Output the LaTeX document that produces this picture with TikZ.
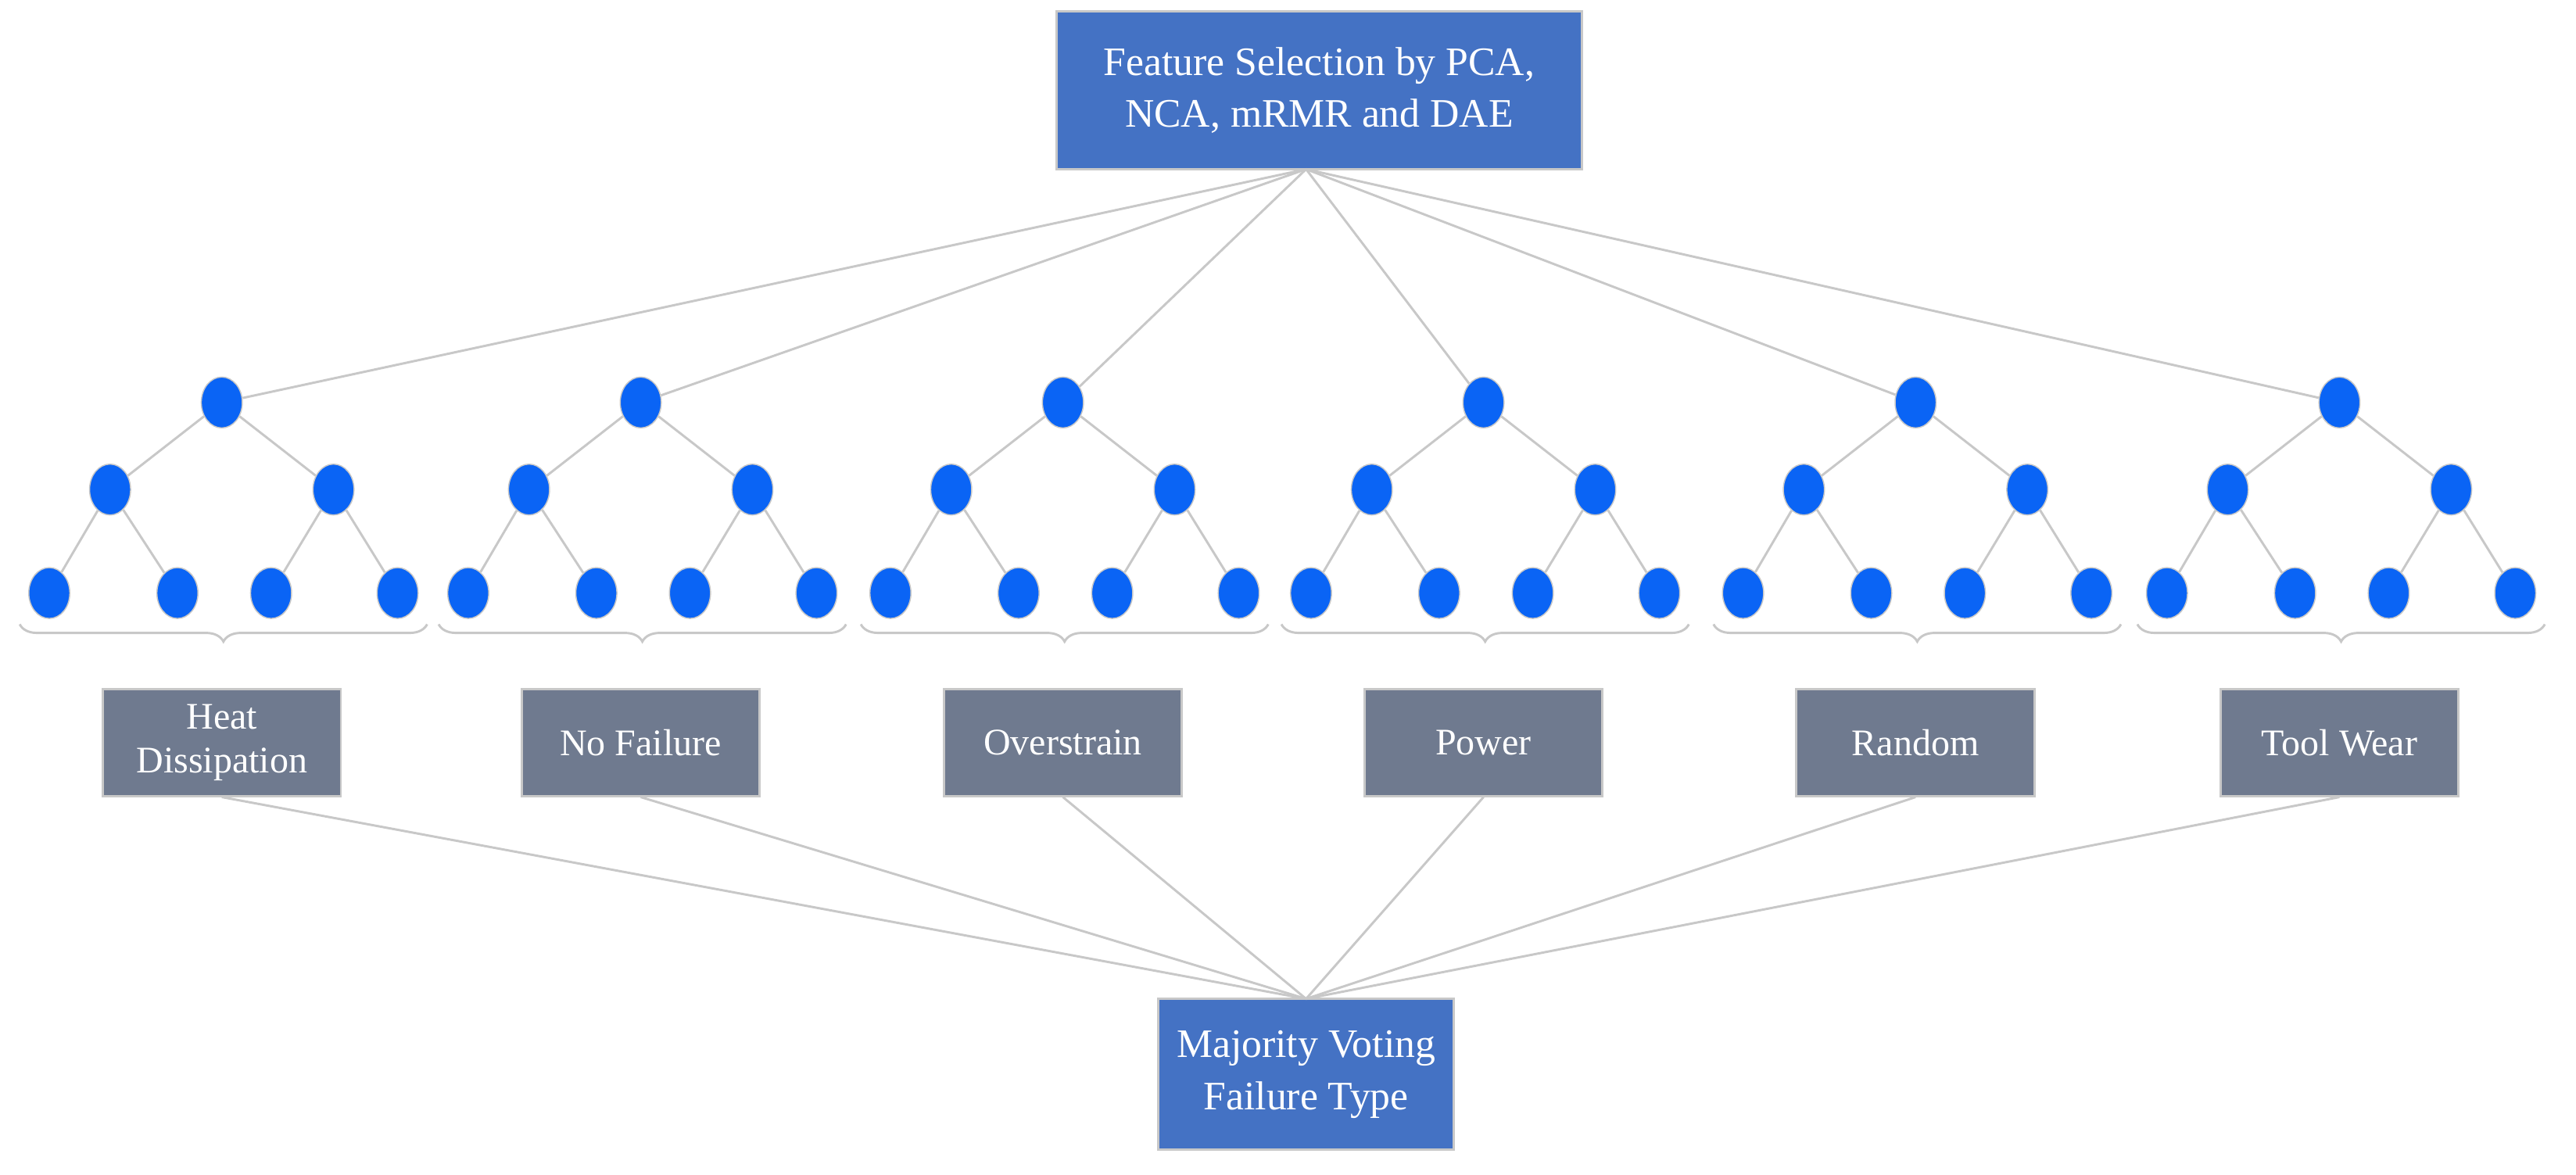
\documentclass[tikz,border=0pt]{standalone}
\usepackage{fontspec}
\setmainfont{Liberation Serif}
\usetikzlibrary{decorations.pathreplacing,shapes.geometric}
\definecolor{topblue}{HTML}{4472C4}
\definecolor{slate}{HTML}{6F7A8F}
\definecolor{leafblue}{HTML}{0A64F5}
\definecolor{linegray}{HTML}{C8C8C8}
\tikzstyle{head}=[draw=linegray, thick, fill=topblue, text=white, align=center, font=\fontsize{14}{18}\selectfont, inner sep=2pt]
\tikzstyle{cls}=[draw=linegray, thick, fill=slate, text=white, align=center, minimum width=2.9cm, minimum height=1.3cm, font=\fontsize{13}{15}\selectfont, inner sep=1pt]
\tikzstyle{leaf}=[draw=linegray, ellipse, fill=leafblue, minimum width=0.5cm, minimum height=0.62cm, inner sep=0pt]
\tikzstyle{edge} = [draw=linegray, thick]
\tikzstyle{brace} = [draw=linegray, thick, decorate, decoration={brace, mirror, amplitude=6pt}]

\begin{document}
\begin{tikzpicture}[x=0.02cm, y=-0.02cm]
    \useasboundingbox (0,0) rectangle (1568,715);
    \node[head, minimum width=6.4cm, minimum height=1.92cm] (fs) at (803,55) {Feature Selection by PCA,\\ NCA, mRMR and DAE};
    \node[head, minimum width=3.6cm, minimum height=1.84cm] (mv) at (795,654) {Majority Voting\\ Failure Type};
    \coordinate (fsb) at (795,103);
    \coordinate (mvt) at (795,608);

    % trees with their class boxes
    \foreach \x/\lab/\i in {
                            135/{Heat\\ Dissipation}/1,
                            390/No Failure/2,
                            647/Overstrain/3,
                            903/Power/4,
                            1166/Random/5,
                            1424/Tool Wear/6}{
        \node[leaf] (r\i) at (\x,245) {};
        \node[leaf] (a\i) at (\x-68,298) {};
        \node[leaf] (b\i) at (\x+68,298) {};
        \node[leaf] (aa\i) at (\x-105,361) {};
        \node[leaf] (ab\i) at (\x-27,361) {};
        \node[leaf] (ba\i) at (\x+30,361) {};
        \node[leaf] (bb\i) at (\x+107,361) {};
        \draw[edge] (r\i) -- (a\i);
        \draw[edge] (r\i) -- (b\i);
        \draw[edge] (a\i) -- (aa\i);
        \draw[edge] (a\i) -- (ab\i);
        \draw[edge] (b\i) -- (ba\i);
        \draw[edge] (b\i) -- (bb\i);
        \draw[edge] (fsb) -- (r\i);
        \draw[brace] (\x-123,380) -- (\x+125,380);
        \node[cls] (c\i) at (\x,452) {\lab};
        \draw[edge] (c\i.south) -- (mvt);
    }
\end{tikzpicture}
\end{document}
